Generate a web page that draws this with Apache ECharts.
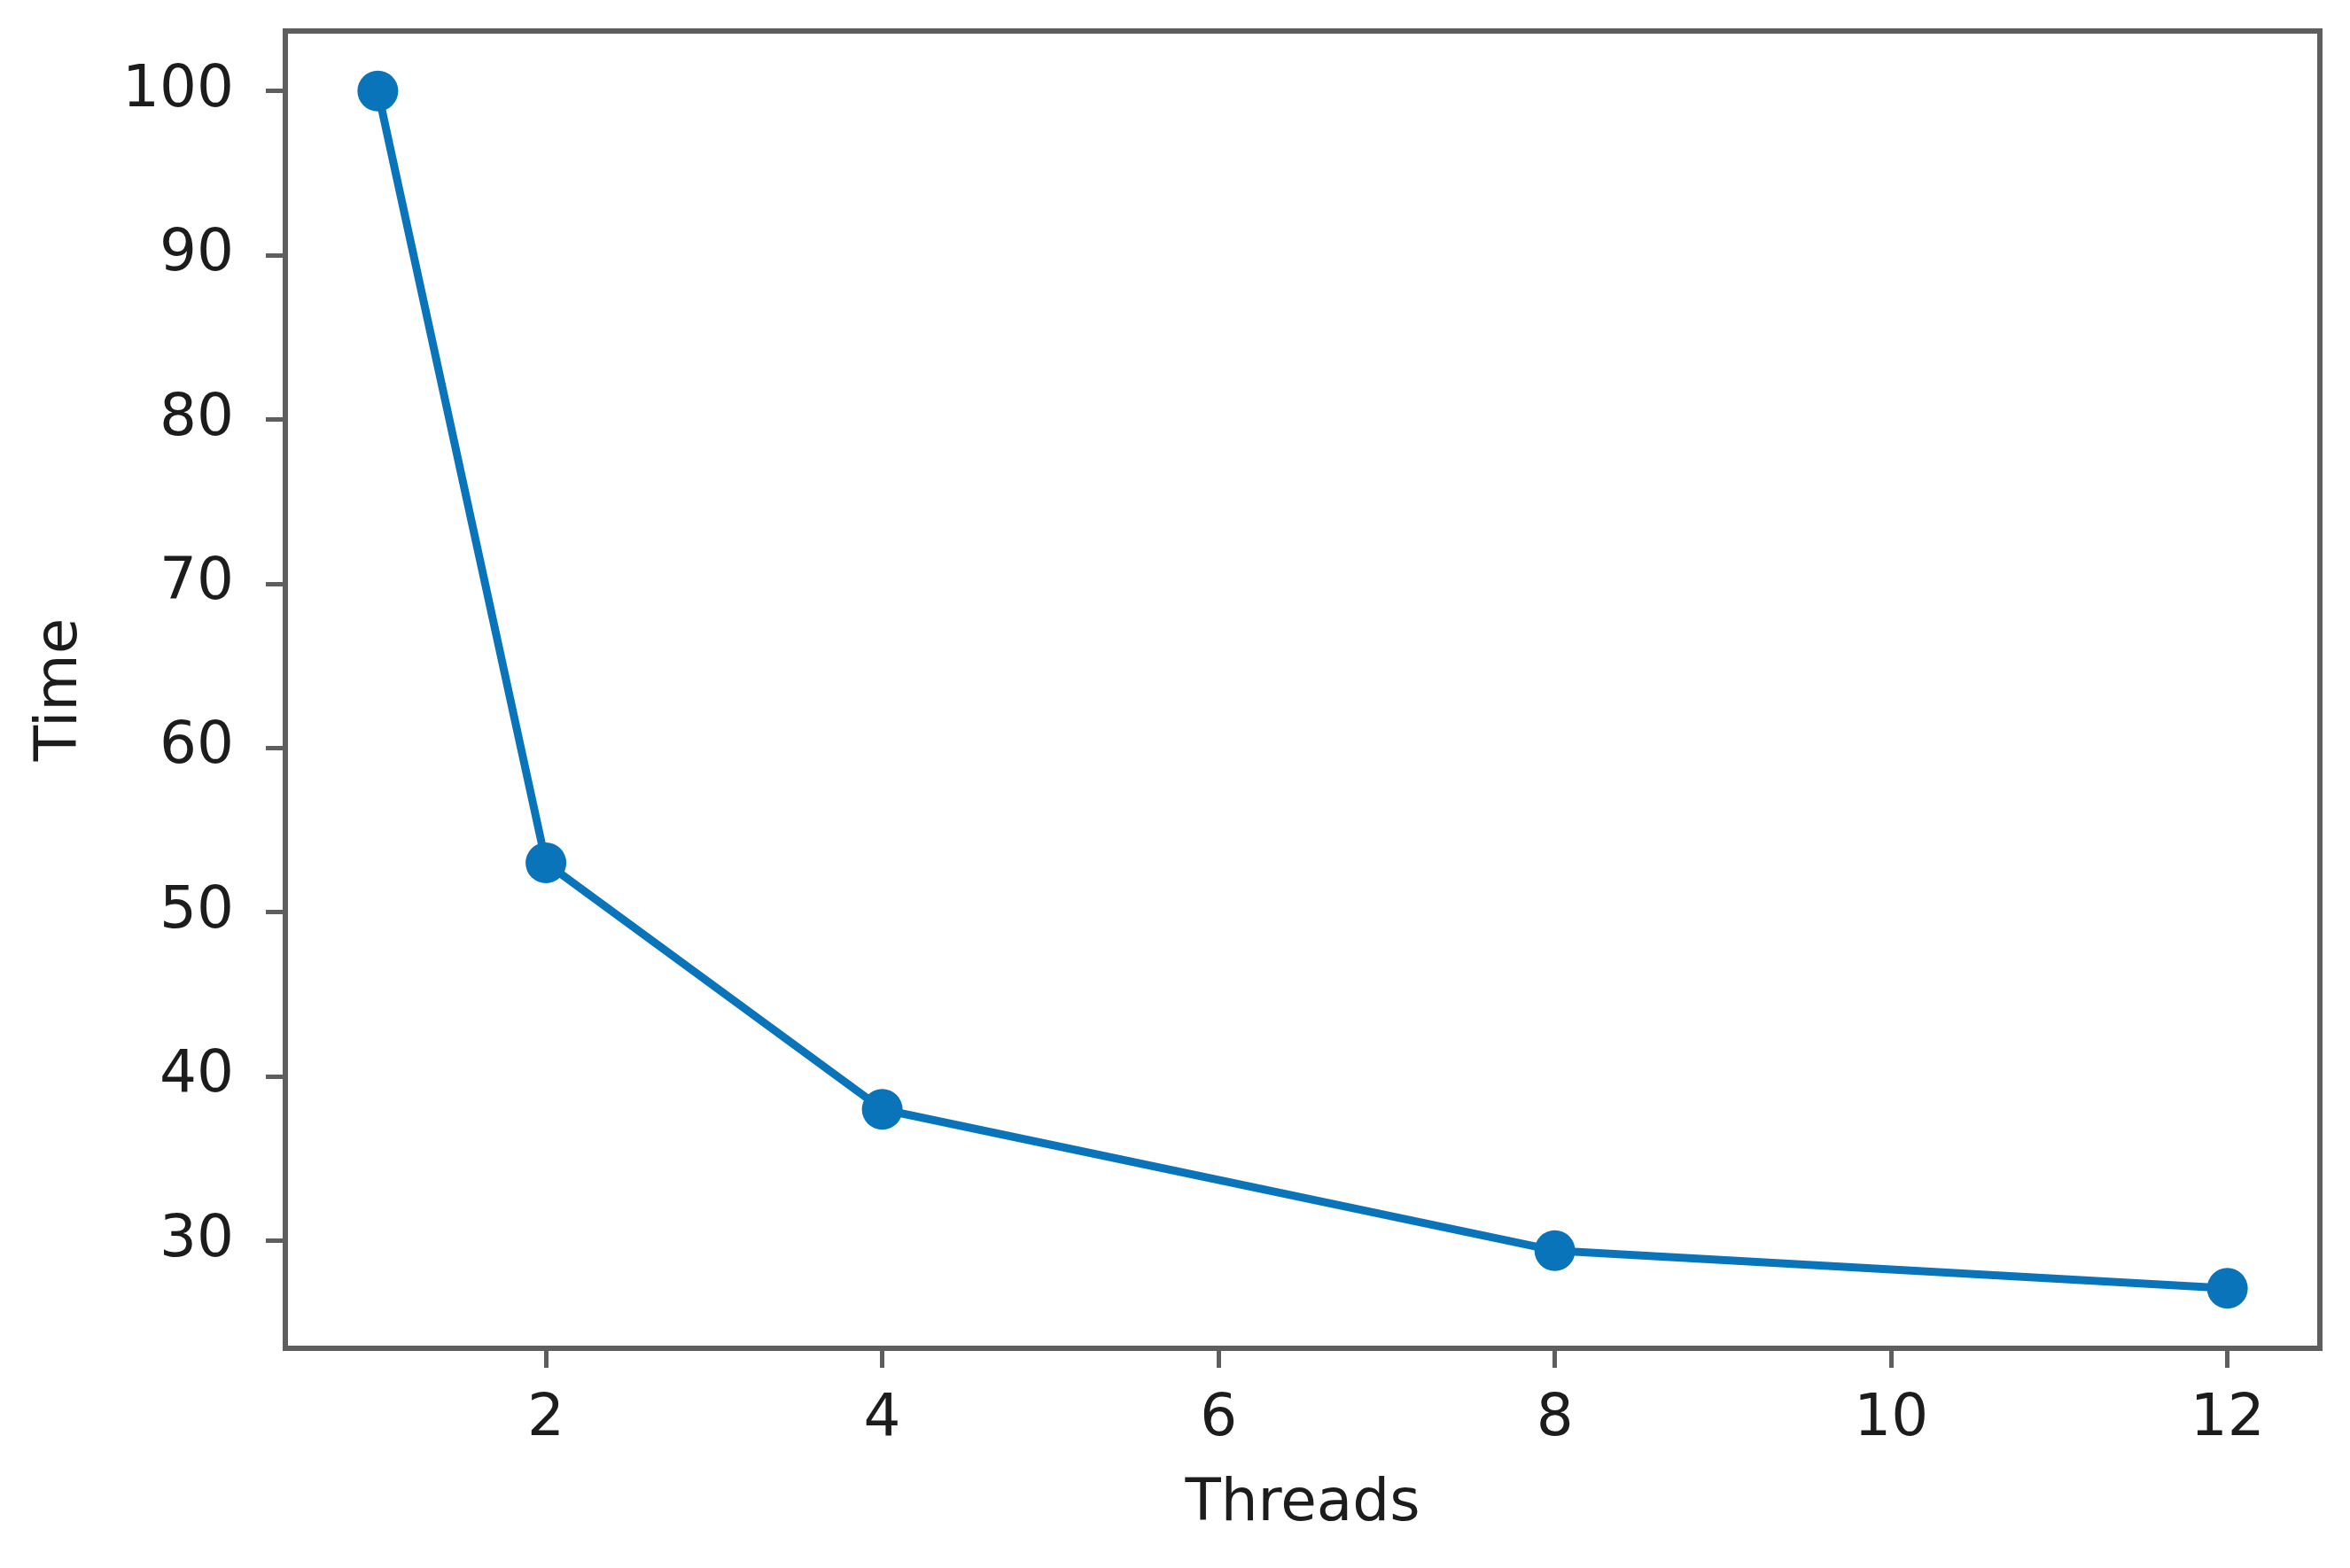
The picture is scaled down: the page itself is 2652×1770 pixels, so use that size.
<!DOCTYPE html>
<html>
<head>
<meta charset="utf-8">
<title>Threads vs Time</title>
<script src="https://cdn.jsdelivr.net/npm/echarts@6/dist/echarts.min.js"></script>
<style>
  html, body { margin: 0; padding: 0; background: #fff; }
  #main { width: 2652px; height: 1770px; }
</style>
</head>
<body>
<div id="main"></div>
<script>
// data
var threads = [1, 2, 4, 8, 12];
var times = [100, 53, 38, 29.4, 27.1];
var xTicks = [2, 4, 6, 8, 10, 12];
var yTicks = [30, 40, 50, 60, 70, 80, 90, 100];

var textColor = '#1c1c1c';
var spineColor = '#5e5e5e';
var lineColor = '#0a74ba';
var font = 'DejaVu Sans';

var chart = echarts.init(document.getElementById('main'));

chart.setOption({
  animation: false,
  backgroundColor: '#fff',
  grid: {
    left: 322, right: 34, top: 35, bottom: 248,
    show: true,
    borderColor: spineColor,
    borderWidth: 6,
    backgroundColor: '#fff'
  },
  xAxis: {
    type: 'value',
    min: 0.45,
    max: 12.55,
    name: 'Threads',
    nameLocation: 'middle',
    nameGap: 144,
    nameTextStyle: { fontFamily: font, fontSize: 66, color: textColor },
    splitLine: { show: false },
    axisLine: { lineStyle: { color: spineColor, width: 6 } },
    axisTick: { customValues: xTicks, length: 22, lineStyle: { color: spineColor, width: 5 } },
    axisLabel: {
      customValues: xTicks,
      margin: 48,
      fontFamily: font, fontSize: 66, color: textColor
    }
  },
  yAxis: {
    type: 'value',
    min: 23.45,
    max: 103.65,
    name: 'Time',
    nameLocation: 'middle',
    nameGap: 220,
    nameTextStyle: { fontFamily: font, fontSize: 66, color: textColor },
    splitLine: { show: false },
    axisLine: { lineStyle: { color: spineColor, width: 6 } },
    axisTick: { customValues: yTicks, length: 22, lineStyle: { color: spineColor, width: 5 } },
    axisLabel: {
      customValues: yTicks,
      margin: 58,
      fontFamily: font, fontSize: 66, color: textColor
    }
  },
  series: [{
    type: 'line',
    data: threads.map(function (t, i) { return [t, times[i]]; }),
    symbol: 'circle',
    symbolSize: 46,
    lineStyle: { color: lineColor, width: 9 },
    itemStyle: { color: lineColor },
    z: 3
  }]
});
</script>
</body>
</html>
